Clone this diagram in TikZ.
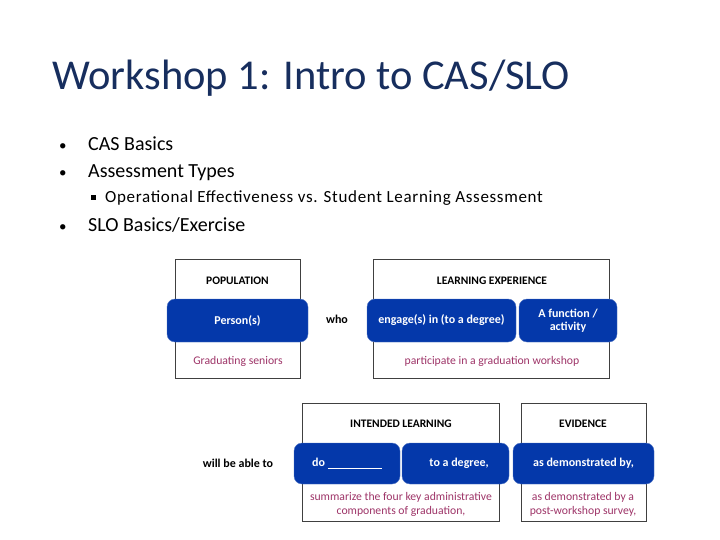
\documentclass[tikz,border=0pt]{standalone}
\usepackage{fontspec}
\setmainfont{Carlito}
\usetikzlibrary{positioning}
\definecolor{titleblue}{RGB}{23,46,94}
\definecolor{boxblue}{RGB}{4,56,170}
\definecolor{examplered}{RGB}{158,52,104}
\tikzset{
  frame/.style  = {draw=black!75, line width=0.6pt, fill=white},
  pill/.style   = {draw=boxblue!70, fill=boxblue, rounded corners=8pt, text=white,
                   font=\fontsize{12}{13.5}\selectfont\bfseries, align=center},
  head/.style   = {font=\fontsize{11.5}{13}\selectfont\bfseries},
  sample/.style = {text=examplered, font=\fontsize{11.7}{14}\selectfont, align=center},
  item/.style   = {anchor=base west, inner sep=0pt, font=\fontsize{20}{22}\selectfont},
  dot/.style    = {anchor=base west, inner sep=0pt, font=\fontsize{15}{22}\selectfont},
  subitem/.style= {anchor=base west, inner sep=0pt, font=\fontsize{17}{18}\selectfont\addfontfeature{LetterSpace=4}},
}

\begin{document}
\begin{tikzpicture}[x=1pt, y=-1pt]
    \useasboundingbox (0,0) rectangle (720,540);

    % title and bullets
    \node [anchor=base west, text=titleblue, font=\fontsize{42.5}{46}\selectfont, inner sep=0pt] (title) at (52,90) {Workshop 1: Intro to CAS/SLO};
    \node [dot] (b1) at (59,151) {•};
    \node [item] (i1) at (88,151) {CAS Basics};
    \node [dot] (b2) at (59,178) {•};
    \node [item] (i2) at (88,178) {Assessment Types};
    \node [subitem] (b3) at (91,203) {\rule[0.15em]{0.3em}{0.3em}};
    \node [subitem] (i3) at (105,203) {Operational Effectiveness vs. Student Learning Assessment};
    \node [dot] (b4) at (59,231) {•};
    \node [item] (i4) at (88,231) {SLO Basics/Exercise};

    % outline boxes
    \node [frame, minimum width=125pt, minimum height=119pt] (population) at (237.5,319) {};
    \node [frame, minimum width=236pt, minimum height=119pt] (experience) at (491,318.5) {};
    \node [frame, minimum width=197pt, minimum height=118pt] (learning) at (400.5,462) {};
    \node [frame, minimum width=125pt, minimum height=118pt] (evidence) at (583.5,462) {};

    % headings
    \node [head] (popHead) at (237.5,281) {POPULATION};
    \node [head] (expHead) at (492,281) {LEARNING EXPERIENCE};
    \node [head] (lrnHead) at (401,424) {INTENDED LEARNING};
    \node [head] (eviHead) at (583,424) {EVIDENCE};

    % blue parts of the statement
    \node [pill, minimum width=141pt, minimum height=43pt] (person) at (237.5,320.5) {Person(s)};
    \node [pill, minimum width=149pt, minimum height=43pt] (engage) at (441.5,320.5) {engage(s) in (to a degree)};
    \node [pill, minimum width=98pt, minimum height=43pt] (activity) at (568,320.5) {A function /\\activity};
    \node [pill, minimum width=106pt, minimum height=41pt] (doit) at (347,463.5) {do \underline{\hspace{4.5em}}};
    \node [pill, minimum width=107pt, minimum height=41pt] (degree) at (455.5,463.5) {\hspace{0.6em}to a degree,};
    \node [pill, minimum width=141pt, minimum height=41pt] (shownby) at (583.5,463.5) {as demonstrated by,};

    % connecting words
    \node [font=\fontsize{12}{13}\selectfont\bfseries] (who) at (337,319) {who};
    \node [font=\fontsize{12}{13}\selectfont\bfseries] (ableto) at (238,463) {will be able to};

    % example statement
    \node [sample] (seniors) at (238,361) {Graduating seniors};
    \node [sample] (workshop) at (492,361) {participate in a graduation workshop};
    \node [sample] (summarize) at (401,504.5) {summarize the four key administrative\\components of graduation,};
    \node [sample] (survey) at (583,504.5) {as demonstrated by a\\post-workshop survey,};
\end{tikzpicture}
\end{document}
